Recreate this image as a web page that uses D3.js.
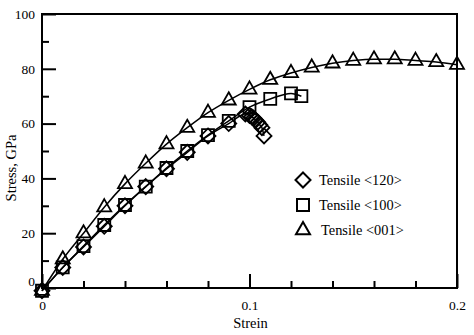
<!DOCTYPE html>
<html>
<head>
<meta charset="utf-8">
<script src="https://cdn.jsdelivr.net/npm/d3@7"></script>
<style>
  html, body { margin: 0; padding: 0; background: #fff; }
  svg { display: block; }
  text { font-family: "Liberation Serif", "Times New Roman", serif; fill: #000; }
</style>
</head>
<body>
<svg id="chart" width="474" height="335"></svg>
<script>
// Stress–strain data for three tensile directions
const strain001 = [0, 0.01, 0.02, 0.03, 0.04, 0.05, 0.06, 0.07, 0.08, 0.09, 0.10,
                   0.11, 0.12, 0.13, 0.14, 0.15, 0.16, 0.17, 0.18, 0.19, 0.20];
const stress001 = [-1, 10.5, 20, 29.5, 38, 45.5, 52.5, 58.5, 64, 68.5, 72.5,
                   76, 78.5, 80.5, 82, 83, 83.5, 83.5, 83, 82.5, 81.5];

const strain100 = [0, 0.01, 0.02, 0.03, 0.04, 0.05, 0.06, 0.07, 0.08, 0.09, 0.10, 0.11, 0.12, 0.125];
const stress100 = [-1, 7.5, 15.3, 23, 30.3, 37, 43.8, 50, 55.8, 61, 66, 69, 71, 70];

const strain120 = [0, 0.01, 0.02, 0.03, 0.04, 0.05, 0.06, 0.07, 0.08, 0.09,
                   0.098, 0.100, 0.101, 0.102, 0.103, 0.104, 0.105, 0.106, 0.107];
const stress120 = [-1, 7.5, 15, 22.5, 30, 37, 43.5, 49.5, 55.5, 60,
                   63.5, 63, 62.5, 62, 61.2, 60.5, 59.5, 58.5, 55.5];

const seriesNames = ["Tensile <120>", "Tensile <100>", "Tensile <001>"];
const seriesShapes = ["diamond", "square", "triangle"];

const xMajor = [0, 0.1, 0.2];
const xMinor = [0.02, 0.04, 0.06, 0.08, 0.12, 0.14, 0.16, 0.18];
const yMajor = [0, 20, 40, 60, 80, 100];
const yMinor = [10, 30, 50, 70, 90];

const svg = d3.select("#chart");
const plotLeft = 42, plotRight = 457, plotTop = 14, plotBottom = 288;

const x = d3.scaleLinear().domain([0, 0.2]).range([plotLeft, plotRight]);
const y = d3.scaleLinear().domain([0, 100]).range([plotBottom, plotTop]);

// Marker path generators
function markerPath(shape) {
  if (shape === "triangle") return "M0,-8L7,4.2L-7,4.2Z";
  if (shape === "square") return "M-6,-6H6V6H-6Z";
  return "M0,-7.5L7.5,0L0,7.5L-7.5,0Z";
}

// Frame
svg.append("rect")
  .attr("x", plotLeft).attr("y", plotTop)
  .attr("width", plotRight - plotLeft).attr("height", plotBottom - plotTop)
  .attr("fill", "none").attr("stroke", "#000").attr("stroke-width", 2);

// X axis: labelled major ticks and minor ticks, pointing inward
const xAxisMajor = d3.axisBottom(x).tickValues(xMajor).tickSize(-14).tickPadding(12)
  .tickFormat(d => d === 0 ? "0" : d3.format(".1f")(d));
const xAxisMinor = d3.axisBottom(x).tickValues(xMinor).tickSize(-7).tickFormat("");

const gxMinor = svg.append("g").attr("transform", `translate(0,${plotBottom})`).call(xAxisMinor);
const gx = svg.append("g").attr("transform", `translate(0,${plotBottom})`).call(xAxisMajor);

// Y axis
const yAxisMajor = d3.axisLeft(y).tickValues(yMajor).tickSize(-14).tickPadding(7);
const yAxisMinor = d3.axisLeft(y).tickValues(yMinor).tickSize(-7).tickFormat("");
const gyMinor = svg.append("g").attr("transform", `translate(${plotLeft},0)`).call(yAxisMinor);
const gy = svg.append("g").attr("transform", `translate(${plotLeft},0)`).call(yAxisMajor);

[gx, gxMinor, gy, gyMinor].forEach(g => {
  g.select(".domain").remove();
  g.selectAll(".tick line").attr("stroke", "#000").attr("stroke-width", 2);
  g.selectAll(".tick text")
    .style("font-family", "'Liberation Serif', serif")
    .style("font-size", "13.5px").attr("fill", "#000");
});
// the zero label sits a little above the corner
gy.selectAll(".tick").filter(d => d === 0).select("text").attr("dy", "-0.15em");

// Axis titles
svg.append("text")
  .attr("x", (plotLeft + plotRight) / 2 + 1).attr("y", 328)
  .attr("text-anchor", "middle").style("font-size", "14.5px")
  .text("Strein");
svg.append("text")
  .attr("transform", `translate(16,168) rotate(-90)`)
  .attr("text-anchor", "middle").style("font-size", "14.5px")
  .text("Stress, GPa");

// Series
const series = [
  { xs: strain120, ys: stress120, shape: seriesShapes[0] },
  { xs: strain100, ys: stress100, shape: seriesShapes[1] },
  { xs: strain001, ys: stress001, shape: seriesShapes[2] }
];

const line = d3.line()
  .x(d => x(d[0])).y(d => y(d[1]))
  .curve(d3.curveMonotoneX);

series.forEach(s => {
  const pts = s.xs.map((v, i) => [v, s.ys[i]]);
  svg.append("path")
    .datum(pts)
    .attr("d", line)
    .attr("fill", "none")
    .attr("stroke", "#000")
    .attr("stroke-width", 1.5);
  svg.append("g").selectAll("path")
    .data(pts)
    .join("path")
    .attr("transform", d => `translate(${x(d[0])},${y(d[1])})`)
    .attr("d", markerPath(s.shape))
    .attr("fill", "none")
    .attr("stroke", "#000")
    .attr("stroke-width", 1.8);
});

// Legend
const legend = svg.append("g");
const legendRows = [180, 205, 230];
seriesNames.forEach((name, i) => {
  legend.append("path")
    .attr("transform", `translate(303,${legendRows[i]})`)
    .attr("d", markerPath(seriesShapes[i]))
    .attr("fill", "none").attr("stroke", "#000").attr("stroke-width", 2);
  legend.append("text")
    .attr("x", i === 2 ? 321 : 319).attr("y", legendRows[i] + 5)
    .style("font-size", "14.4px")
    .text(name);
});
</script>
</body>
</html>
